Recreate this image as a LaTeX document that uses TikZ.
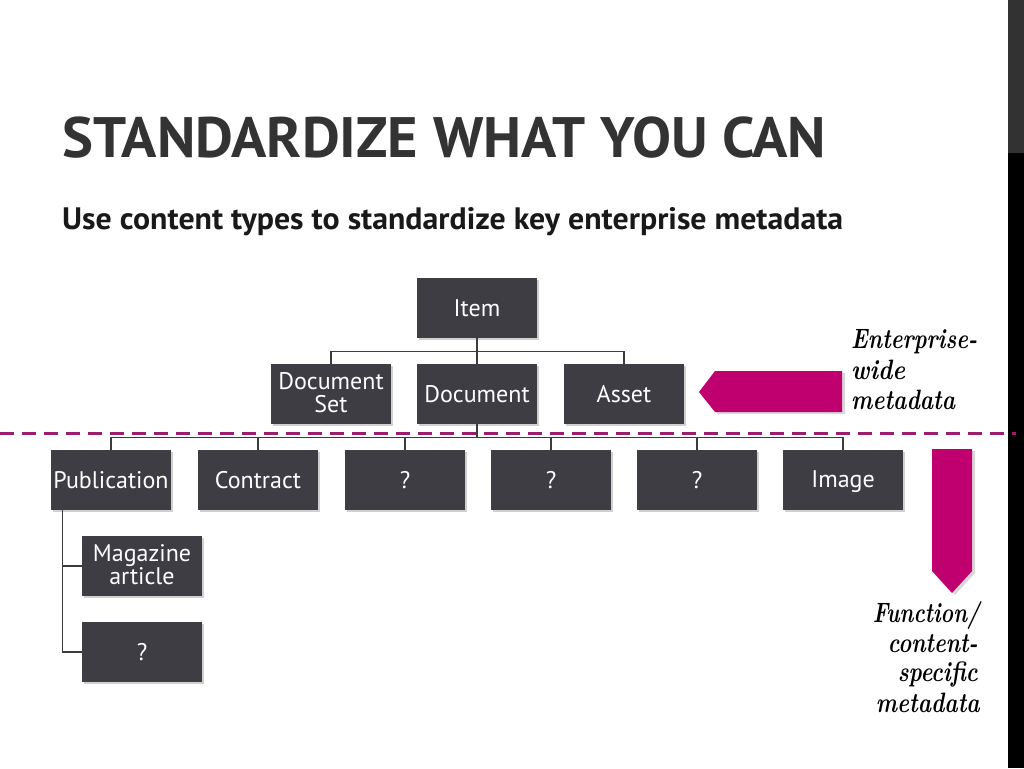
\documentclass[tikz,border=0pt]{standalone}
\usepackage{fontspec}
\usepackage{graphicx}
\newfontfamily\ptsans{PT Sans}
\usetikzlibrary{shadows}
\definecolor{boxc}{RGB}{62,61,68}
\definecolor{linec}{RGB}{60,60,60}
\definecolor{dashc}{RGB}{158,28,108}
\definecolor{arrc}{RGB}{192,0,110}
\definecolor{titlec}{RGB}{51,51,51}
\definecolor{barc}{RGB}{50,50,50}
\newcommand\fw[2]{\resizebox{#1}{\height}{#2}}
\newcommand\scr{\normalfont\bfseries\itshape\fontsize{28}{30}\selectfont}
\tikzset{
  tbox/.style={fill=boxc, text=white, minimum width=120pt, minimum height=60pt,
    inner sep=0pt, align=center, font=\ptsans\fontsize{24}{23}\selectfont,
    execute at begin node={\rule[-4pt]{0pt}{24pt}},
    drop shadow={shadow xshift=2pt, shadow yshift=-2pt, opacity=0.3, fill=black!60}},
  conn/.style={draw=linec, line width=1.2pt},
  mdash/.style={draw=dashc, line width=3pt, dash pattern=on 14pt off 8pt},
  marrow/.style={fill=arrc, drop shadow={shadow xshift=3pt, shadow yshift=-2pt, opacity=0.25, fill=black!60}},
  scrl/.style={inner sep=0pt, text=black},
}
\begin{document}
\begin{tikzpicture}[x=1pt,y=-1pt]
\useasboundingbox[fill=white] (0,0) rectangle (1024,768);
% right bar
\fill[barc] (1008,0) rectangle (1024,153);
\fill[black] (1008,153) rectangle (1024,768);
% title
\node[anchor=base west, inner sep=0pt, text=titlec] (title) at (62,157)
  {\fw{764pt}{\ptsans\bfseries\fontsize{57}{60}\selectfont STANDARDIZE WHAT YOU CAN}};
\node[anchor=base west, inner sep=0pt, text=black!90] (sub) at (62,229)
  {\fw{781pt}{\ptsans\bfseries\fontsize{31}{34}\selectfont Use content types to standardize key enterprise metadata}};
% boxes
\node[tbox] (item)  at (477,308) {Item};
\node[tbox] (dset)  at (331,394) {Document\\Set};
\node[tbox] (doc)   at (477,394) {Document};
\node[tbox] (asset) at (624,394) {Asset};
\node[tbox] (pub)   at (111,480) {Publication};
\node[tbox] (con)   at (258,480) {Contract};
\node[tbox] (q1)    at (405,480) {?};
\node[tbox] (q2)    at (551,480) {?};
\node[tbox] (q3)    at (697,480) {?};
\node[tbox] (img)   at (843,480) {Image};
\node[tbox] (mag)   at (142,566) {Magazine\\article};
\node[tbox] (q4)    at (142,652) {?};
% connectors
\draw[conn] (item.south) -- ++(0,13) coordinate (j1);
\draw[conn] (j1) -| (dset.north);
\draw[conn] (j1) -| (asset.north);
\draw[conn] (j1) -- (doc.north);
\draw[conn] (doc.south) -- ++(0,13) coordinate (j2);
\foreach \n in {pub,con,q1,q2,q3,img} {\draw[conn] (j2) -| (\n.north);}
\coordinate (pv) at ([xshift=12pt]pub.south west);
\draw[conn] (pv) |- (mag.west);
\draw[conn] (pv) |- (q4.west);
% dashed divider
\coordinate (d0) at (0,433);
\coordinate (d1) at (1016,433);
\draw[mdash] (d0) -- (d1);
% arrows
\fill[marrow] (842,371) -- (715,371) -- (699,392) -- (715,412) -- (842,412) -- cycle;
\fill[marrow] (932,449) -- (972,449) -- (972,571) -- (952,593) -- (932,571) -- cycle;
% script labels
\node[scrl, anchor=base west] (e1) at (851,348) {\fw{126pt}{\scr Enterprise-}};
\node[scrl, anchor=base west] (e2) at (851,379) {\fw{54pt}{\scr wide}};
\node[scrl, anchor=base west] (e3) at (851,409) {\fw{104pt}{\scr metadata}};
\node[scrl, anchor=base east] (f1) at (980,622) {\fw{107pt}{\scr Function/}};
\node[scrl, anchor=base east] (f2) at (978,652) {\fw{90pt}{\scr content-}};
\node[scrl, anchor=base east] (f3) at (978,681) {\fw{80pt}{\scr specific}};
\node[scrl, anchor=base east] (f4) at (980,712) {\fw{104pt}{\scr metadata}};
\end{tikzpicture}
\end{document}
